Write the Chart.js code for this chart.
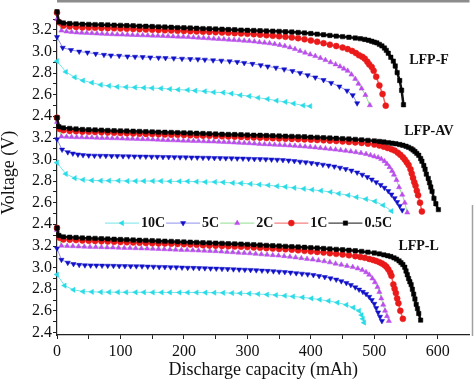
<!DOCTYPE html>
<html>
<head>
<meta charset="utf-8">
<script src="https://cdn.jsdelivr.net/npm/chart.js@4.4.1/dist/chart.umd.min.js"></script>
<style>
  html, body { margin: 0; padding: 0; background: #fff; }
  #wrap { width: 474px; height: 384px; }
</style>
</head>
<body>
<div id="wrap"><canvas id="dischargeChart" width="474" height="384"></canvas></div>
<script>
// 放電曲線データ (容量 mAh, 電圧 V) 図から読み取り
const rateLabels = ['10C', '5C', '2C', '1C', '0.5C'];
const panelNames = ['LFP-F', 'LFP-AV', 'LFP-L'];
const capTicks = [0, 50, 100, 150, 200, 250, 300, 350, 400, 450, 500, 550, 600];
const voltTicks = [2.4, 2.5, 2.6, 2.7, 2.8, 2.9, 3.0, 3.1, 3.2, 3.3];

// LFP-F
const fPts10C = [[0,2.91],[14,2.81],[28,2.76],[41,2.73],[55,2.71],[69,2.69],[82,2.681],[95,2.672],[109,2.669],[123,2.666],[137,2.663],[150,2.66],[164,2.657],[178,2.651],[191,2.645],[206,2.642],[218,2.636],[233,2.63],[247,2.621],[262,2.618],[275,2.609],[289,2.594],[303,2.585],[317,2.57],[332,2.558],[346,2.543],[360,2.531],[373,2.516],[388,2.498],[399,2.492]];
const fPts5C = [[0,3.134],[9,3.035],[22,3.014],[35,2.999],[48,2.99],[61,2.978],[74,2.969],[85,2.963],[98,2.96],[111,2.954],[123,2.951],[135,2.948],[147,2.945],[160,2.942],[171,2.939],[184,2.936],[197,2.933],[210,2.93],[222,2.927],[233,2.924],[246,2.918],[259,2.915],[272,2.909],[284,2.903],[295,2.894],[308,2.885],[321,2.873],[332,2.861],[345,2.849],[358,2.834],[371,2.819],[383,2.801],[395,2.78],[407,2.759],[420,2.735],[432,2.708],[445,2.675],[457,2.636],[466,2.594],[473,2.519]];
const fPts2C = [[0,3.30],[7,3.194],[15,3.186],[23,3.181],[31,3.177],[39,3.174],[47,3.172],[55,3.170],[63,3.167],[71,3.165],[79,3.162],[87,3.160],[95,3.158],[103,3.157],[111,3.155],[119,3.153],[127,3.152],[135,3.150],[143,3.149],[151,3.147],[159,3.146],[167,3.144],[175,3.142],[183,3.140],[191,3.138],[199,3.136],[207,3.134],[215,3.131],[223,3.128],[231,3.125],[239,3.122],[247,3.119],[255,3.116],[263,3.113],[271,3.110],[279,3.107],[287,3.104],[295,3.100],[303,3.097],[311,3.092],[319,3.087],[327,3.082],[335,3.076],[343,3.069],[351,3.060],[359,3.050],[367,3.038],[375,3.022],[383,3.005],[391,2.989],[399,2.972],[407,2.957],[415,2.940],[423,2.920],[431,2.900],[439,2.880],[446,2.860],[452,2.840],[458,2.820],[464,2.785],[470,2.745],[475,2.700],[480,2.655],[486,2.595],[493,2.50]];
const fPts1C = [[0,3.36],[4,3.27],[10,3.240],[20,3.233],[30,3.228],[40,3.224],[50,3.222],[60,3.220],[70,3.218],[80,3.217],[90,3.215],[100,3.213],[110,3.211],[120,3.209],[130,3.207],[140,3.204],[150,3.202],[160,3.200],[170,3.197],[180,3.195],[190,3.192],[200,3.190],[210,3.188],[220,3.186],[230,3.183],[240,3.181],[250,3.179],[260,3.176],[270,3.173],[280,3.170],[290,3.167],[300,3.164],[310,3.160],[320,3.156],[330,3.151],[340,3.146],[350,3.141],[360,3.136],[370,3.130],[380,3.124],[390,3.113],[400,3.102],[410,3.090],[420,3.077],[430,3.063],[440,3.050],[450,3.036],[458,3.022],[465,3.005],[471,2.985],[476,2.965],[481,2.950],[485,2.933],[489,2.905],[492,2.880],[496,2.855],[499,2.820],[503,2.766],[508,2.685],[513,2.604],[518,2.496]];
const fPts05C = [[0,3.37],[3,3.275],[10,3.265],[20,3.260],[30,3.257],[40,3.254],[50,3.252],[60,3.250],[70,3.249],[80,3.247],[90,3.245],[100,3.243],[110,3.241],[120,3.239],[130,3.236],[140,3.234],[150,3.232],[160,3.229],[170,3.227],[180,3.225],[190,3.222],[200,3.220],[210,3.218],[220,3.216],[230,3.213],[240,3.211],[250,3.209],[260,3.207],[270,3.204],[280,3.202],[290,3.199],[300,3.197],[310,3.195],[320,3.193],[330,3.191],[340,3.189],[350,3.187],[360,3.184],[370,3.181],[380,3.177],[390,3.172],[400,3.167],[410,3.161],[420,3.155],[430,3.149],[440,3.143],[450,3.138],[460,3.132],[470,3.125],[478,3.119],[485,3.112],[491,3.104],[496,3.095],[500,3.087],[504,3.080],[508,3.066],[512,3.052],[516,3.032],[519,3.010],[522,2.984],[526,2.946],[530,2.910],[533,2.865],[536,2.804],[540,2.730],[543,2.640],[546,2.505]];

// LFP-AV
const avPts10C = [[0,2.972],[14,2.867],[28,2.828],[41,2.813],[55,2.807],[69,2.804],[82,2.804],[97,2.804],[111,2.801],[124,2.801],[137,2.801],[151,2.801],[164,2.801],[178,2.798],[193,2.798],[206,2.798],[220,2.795],[234,2.792],[249,2.792],[262,2.789],[277,2.783],[290,2.780],[305,2.774],[319,2.768],[333,2.762],[347,2.753],[360,2.747],[374,2.738],[389,2.729],[402,2.720],[416,2.711],[431,2.699],[444,2.684],[459,2.669],[472,2.651],[487,2.633],[501,2.612],[514,2.576],[527,2.522]];
const avPts5C = [[0,3.189],[8,3.093],[17,3.069],[25,3.057],[33,3.048],[41,3.042],[50,3.039],[59,3.037],[68,3.036],[77,3.035],[86,3.034],[95,3.033],[104,3.032],[113,3.031],[122,3.030],[131,3.029],[140,3.028],[149,3.027],[158,3.026],[167,3.025],[176,3.024],[185,3.023],[194,3.022],[203,3.021],[212,3.020],[221,3.019],[230,3.018],[239,3.017],[248,3.015],[257,3.014],[266,3.013],[275,3.012],[284,3.011],[293,3.010],[302,3.008],[311,3.006],[320,3.005],[329,3.003],[338,3.001],[347,2.999],[356,2.996],[365,2.992],[374,2.987],[383,2.981],[392,2.975],[401,2.968],[410,2.961],[419,2.953],[428,2.945],[437,2.936],[446,2.925],[455,2.912],[464,2.898],[473,2.880],[481,2.860],[489,2.838],[496,2.815],[503,2.790],[510,2.765],[516,2.738],[522,2.708],[527,2.676],[532,2.642],[536,2.606],[540,2.570],[544,2.530]];
const avPts2C = [[0,3.35],[7,3.214],[15,3.212],[23,3.210],[31,3.208],[39,3.207],[47,3.206],[55,3.205],[63,3.203],[71,3.202],[79,3.201],[87,3.199],[95,3.198],[103,3.196],[111,3.195],[119,3.193],[127,3.192],[135,3.190],[143,3.189],[151,3.187],[159,3.185],[167,3.183],[175,3.181],[183,3.179],[191,3.178],[199,3.176],[207,3.175],[215,3.173],[223,3.172],[231,3.170],[239,3.169],[247,3.168],[255,3.166],[263,3.164],[271,3.162],[279,3.159],[287,3.157],[295,3.154],[303,3.152],[311,3.149],[319,3.146],[327,3.143],[335,3.141],[343,3.139],[351,3.137],[359,3.134],[367,3.131],[375,3.128],[383,3.125],[391,3.121],[399,3.117],[407,3.113],[415,3.108],[423,3.103],[431,3.098],[439,3.093],[447,3.088],[455,3.082],[463,3.076],[471,3.069],[479,3.061],[487,3.052],[494,3.041],[500,3.030],[506,3.020],[511,3.005],[516,2.985],[520,2.960],[524,2.930],[528,2.895],[531,2.860],[535,2.810],[539,2.743],[544,2.674],[548,2.599],[552,2.508]];
const avPts1C = [[0,3.39],[4,3.285],[10,3.272],[20,3.267],[30,3.263],[40,3.259],[50,3.258],[60,3.256],[70,3.254],[80,3.252],[90,3.250],[100,3.248],[110,3.246],[120,3.243],[130,3.241],[140,3.239],[150,3.237],[160,3.235],[170,3.233],[180,3.231],[190,3.230],[200,3.228],[210,3.226],[220,3.225],[230,3.223],[240,3.221],[250,3.220],[260,3.217],[270,3.215],[280,3.213],[290,3.210],[300,3.208],[310,3.206],[320,3.204],[330,3.201],[340,3.199],[350,3.196],[360,3.194],[370,3.192],[380,3.190],[390,3.188],[400,3.185],[410,3.182],[420,3.179],[430,3.176],[440,3.173],[450,3.169],[460,3.164],[470,3.160],[480,3.155],[490,3.148],[500,3.140],[508,3.131],[515,3.120],[521,3.108],[527,3.096],[532,3.084],[537,3.065],[541,3.045],[545,3.022],[548,3.000],[551,2.975],[554,2.950],[557,2.910],[559,2.870],[561,2.830],[563,2.790],[565,2.756],[567,2.710],[569,2.670],[572,2.600],[575,2.518]];
const avPts05C = [[0,3.39],[3,3.305],[10,3.295],[20,3.290],[30,3.285],[40,3.280],[50,3.278],[60,3.276],[70,3.274],[80,3.271],[90,3.269],[100,3.267],[110,3.266],[120,3.264],[130,3.262],[140,3.260],[150,3.258],[160,3.256],[170,3.254],[180,3.253],[190,3.251],[200,3.249],[210,3.247],[220,3.245],[230,3.243],[240,3.240],[250,3.238],[260,3.236],[270,3.234],[280,3.233],[290,3.231],[300,3.229],[310,3.227],[320,3.226],[330,3.224],[340,3.222],[350,3.220],[360,3.218],[370,3.216],[380,3.214],[390,3.212],[400,3.209],[410,3.207],[420,3.204],[430,3.201],[440,3.198],[450,3.195],[460,3.192],[470,3.188],[480,3.184],[490,3.179],[500,3.174],[508,3.169],[515,3.164],[522,3.158],[528,3.152],[534,3.147],[540,3.140],[545,3.133],[550,3.124],[554,3.114],[558,3.102],[561,3.090],[564,3.075],[567,3.058],[570,3.040],[573,3.010],[575,2.985],[578,2.945],[580,2.910],[582,2.865],[585,2.825],[587,2.785],[589,2.745],[591,2.705],[594,2.640],[597,2.590],[601,2.535]];

// LFP-L
const lPts10C = [[0,2.937],[12,2.834],[26,2.795],[41,2.779],[55,2.776],[69,2.774],[82,2.773],[96,2.773],[109,2.772],[124,2.772],[137,2.772],[151,2.771],[165,2.771],[178,2.771],[193,2.770],[206,2.770],[220,2.770],[234,2.769],[248,2.768],[262,2.767],[276,2.765],[289,2.763],[303,2.760],[317,2.756],[331,2.751],[345,2.746],[359,2.740],[372,2.733],[387,2.725],[401,2.715],[414,2.704],[428,2.692],[442,2.676],[456,2.655],[467,2.630],[476,2.600],[480,2.560],[482,2.525],[484,2.490]];
const lPts5C = [[0,3.180],[7,3.074],[17,3.047],[26,3.035],[35,3.027],[44,3.023],[53,3.022],[62,3.021],[71,3.020],[80,3.019],[89,3.018],[98,3.017],[107,3.016],[116,3.015],[125,3.014],[134,3.013],[143,3.011],[152,3.010],[161,3.008],[170,3.007],[179,3.005],[188,3.004],[197,3.002],[206,3.000],[215,2.999],[224,2.997],[233,2.996],[242,2.994],[251,2.992],[260,2.990],[269,2.988],[278,2.986],[287,2.984],[296,2.982],[305,2.980],[314,2.977],[323,2.974],[332,2.971],[341,2.968],[350,2.964],[359,2.960],[368,2.955],[377,2.950],[386,2.945],[395,2.939],[404,2.933],[413,2.924],[422,2.914],[431,2.902],[440,2.890],[448,2.875],[456,2.859],[463,2.840],[470,2.818],[476,2.797],[482,2.776],[487,2.757],[492,2.730],[496,2.700],[500,2.665],[503,2.625],[506,2.585],[509,2.545],[512,2.505]];
const lPts2C = [[0,3.35],[7,3.205],[16,3.202],[25,3.200],[34,3.198],[43,3.196],[52,3.194],[61,3.192],[70,3.191],[79,3.189],[88,3.188],[97,3.186],[106,3.184],[115,3.183],[124,3.181],[133,3.180],[142,3.178],[151,3.176],[160,3.174],[169,3.172],[178,3.170],[187,3.168],[196,3.166],[205,3.164],[214,3.162],[223,3.160],[232,3.158],[241,3.156],[250,3.154],[259,3.150],[268,3.147],[277,3.144],[286,3.140],[295,3.137],[304,3.134],[313,3.129],[322,3.125],[331,3.121],[340,3.117],[349,3.113],[358,3.108],[367,3.102],[376,3.096],[385,3.089],[394,3.082],[403,3.076],[412,3.068],[421,3.060],[430,3.050],[439,3.038],[448,3.028],[457,3.017],[466,3.006],[474,2.993],[481,2.978],[487,2.958],[492,2.935],[497,2.900],[501,2.865],[505,2.820],[508,2.775],[511,2.715],[514,2.656],[517,2.600],[520,2.550],[523,2.505]];
const lPts1C = [[0,3.37],[4,3.280],[10,3.263],[20,3.260],[30,3.257],[40,3.253],[50,3.251],[60,3.249],[70,3.246],[80,3.244],[90,3.241],[100,3.239],[110,3.237],[120,3.234],[130,3.232],[140,3.230],[150,3.228],[160,3.226],[170,3.225],[180,3.223],[190,3.221],[200,3.219],[210,3.216],[220,3.213],[230,3.210],[240,3.207],[250,3.205],[260,3.202],[270,3.200],[280,3.197],[290,3.195],[300,3.192],[310,3.189],[320,3.185],[330,3.182],[340,3.178],[350,3.175],[360,3.171],[370,3.167],[380,3.162],[390,3.157],[400,3.152],[410,3.147],[420,3.141],[430,3.135],[440,3.129],[450,3.123],[460,3.116],[470,3.108],[478,3.100],[485,3.092],[492,3.082],[498,3.072],[503,3.063],[508,3.052],[512,3.040],[516,3.025],[519,3.010],[522,2.985],[525,2.955],[527,2.925],[530,2.845],[532,2.805],[534,2.765],[536,2.715],[538,2.670],[541,2.600],[545,2.525]];
const lPts05C = [[0,3.37],[3,3.300],[10,3.287],[20,3.284],[30,3.281],[40,3.277],[50,3.275],[60,3.273],[70,3.270],[80,3.268],[90,3.265],[100,3.263],[110,3.261],[120,3.258],[130,3.256],[140,3.254],[150,3.252],[160,3.249],[170,3.247],[180,3.245],[190,3.242],[200,3.240],[210,3.238],[220,3.236],[230,3.233],[240,3.231],[250,3.229],[260,3.227],[270,3.224],[280,3.222],[290,3.220],[300,3.217],[310,3.214],[320,3.211],[330,3.208],[340,3.205],[350,3.202],[360,3.199],[370,3.196],[380,3.193],[390,3.190],[400,3.187],[410,3.183],[420,3.179],[430,3.175],[440,3.171],[450,3.167],[460,3.163],[470,3.158],[480,3.152],[490,3.145],[500,3.137],[508,3.129],[515,3.120],[521,3.112],[526,3.104],[531,3.092],[535,3.080],[539,3.064],[542,3.048],[545,3.030],[548,3.005],[550,2.970],[552,2.935],[554,2.900],[556,2.870],[558,2.843],[560,2.800],[562,2.755],[564,2.710],[566,2.660],[568,2.620],[570,2.575],[573,2.513]];

// パネルごとのデータ (上から順)
const panelSeries = [
    [fPts10C, fPts5C, fPts2C, fPts1C, fPts05C],
    [avPts10C, avPts5C, avPts2C, avPts1C, avPts05C],
    [lPts10C, lPts5C, lPts2C, lPts1C, lPts05C]
];
const panelAxes = ['yF', 'yAV', 'yL'];

// 系列ごとの見た目 (線色, マーカー)
const rateStyle = [
    { line: '#72e4ea', point: '#28dbe6', shape: 'triangle', rot: -90, r: 3.0, lw: 1 },
    { line: '#9090f0', point: '#1010c8', shape: 'triangle', rot: 180, r: 3.0, lw: 1 },
    { line: '#90de90', point: '#bd4cee', shape: 'triangle', rot: 0, r: 3.0, lw: 1 },
    { line: '#f26060', point: '#ea1a1a', shape: 'circle', rot: 0, r: 3.0, lw: 1.5 },
    { line: '#111111', point: '#000000', shape: 'rect', rot: 0, r: 3.1, lw: 2.5 }
];

Chart.defaults.font.family = "'Liberation Serif', 'Times New Roman', serif";
Chart.defaults.color = '#111';

// データセット作成 (0.5Cを一番上に描くため逆順)
const datasets = [];
panelSeries.forEach((series, p) => {
    for (let r = series.length - 1; r >= 0; r--) {
        const st = rateStyle[r];
        datasets.push({
            label: panelNames[p] + ' ' + rateLabels[r],
            data: series[r].map(pt => ({ x: pt[0], y: pt[1] })),
            yAxisID: panelAxes[p],
            xAxisID: 'x',
            showLine: true,
            borderColor: st.line,
            borderWidth: st.lw,
            tension: 0,
            pointStyle: st.shape,
            rotation: st.rot,
            pointRadius: st.r,
            pointBackgroundColor: st.point,
            pointBorderColor: st.point,
            pointBorderWidth: 0.5,
            clip: 6
        });
    }
});

// 電圧軸(3段に積み重ね)
function voltAxis(showTitle) {
    return {
        type: 'linear',
        position: 'left',
        stack: 'volt',
        stackWeight: 1,
        bounds: 'data',
        min: 2.375,
        max: 3.38,
        border: { color: '#222', width: 1.2 },
        grid: { drawOnChartArea: false, tickLength: 4, color: '#222' },
        afterBuildTicks: scale => { scale.ticks = voltTicks.map(v => ({ value: v })); },
        afterFit: scale => { scale.width = 57; },
        ticks: {
            autoSkip: false,
            padding: 1,
            font: { size: 16 },
            callback: v => (Math.round(v * 10) % 2 === 0 ? v.toFixed(1) : '')
        },
        title: {
            display: showTitle,
            text: 'Voltage (V)',
            font: { size: 18, lineHeight: 1 },
            padding: 0
        }
    };
}

// 枠線・パネル名・凡例
const decorPlugin = {
    id: 'decor',
    afterDraw(chart) {
        const ctx = chart.ctx;
        const area = chart.chartArea;
        const xs = chart.scales.x;
        ctx.save();
        // 上と右の灰色の枠
        ctx.fillStyle = '#8c8c8c';
        ctx.fillRect(area.left, 0, area.right - area.left, 2.5);
        ctx.strokeStyle = '#a0a0a0';
        ctx.lineWidth = 1.5;
        ctx.beginPath();
        ctx.moveTo(472.5, 205);
        ctx.lineTo(472.5, area.bottom + 1);
        ctx.stroke();

        // パネル名
        const labelPos = [[555, 2.92], [547, 3.26], [538, 3.195]];
        ctx.font = "bold 14px 'Liberation Serif'";
        ctx.fillStyle = '#111';
        ctx.textBaseline = 'middle';
        ctx.textAlign = 'left';
        panelNames.forEach((name, i) => {
            const ys = chart.scales[panelAxes[i]];
            ctx.fillText(name, xs.getPixelForValue(labelPos[i][0]), ys.getPixelForValue(labelPos[i][1]));
        });

        // 凡例 (中段の下側)
        const ly = chart.scales.yAV.getPixelForValue(2.41);
        let mx = area.left + 65;
        rateLabels.forEach((lab, r) => {
            const st = rateStyle[r];
            ctx.strokeStyle = r === 4 ? '#111' : st.line;
            ctx.lineWidth = 1;
            ctx.beginPath();
            ctx.moveTo(mx - 17, ly);
            ctx.lineTo(mx + 17, ly);
            ctx.stroke();
            ctx.fillStyle = st.point;
            ctx.strokeStyle = st.point;
            ctx.lineWidth = 0.5;
            Chart.helpers.drawPoint(ctx, { pointStyle: st.shape, rotation: st.rot, radius: st.r, borderWidth: 0.5 }, mx, ly);
            ctx.fillStyle = '#111';
            const tx = mx + 19;
            ctx.fillText(lab, tx, ly);
            mx = tx + ctx.measureText(lab).width + 18;
        });
        ctx.restore();
    }
};

new Chart(document.getElementById('dischargeChart').getContext('2d'), {
    type: 'scatter',
    data: { datasets },
    options: {
        responsive: false,
        animation: false,
        devicePixelRatio: 1,
        layout: { padding: { top: 2, right: 0, bottom: 0, left: 0 } },
        plugins: { legend: { display: false }, tooltip: { enabled: false } },
        scales: {
            x: {
                type: 'linear',
                position: 'bottom',
                bounds: 'data',
                min: 0,
                max: 650,
                border: { color: '#222', width: 1.2 },
                grid: { drawOnChartArea: false, tickLength: 4, color: '#222' },
                afterBuildTicks: scale => { scale.ticks = capTicks.map(v => ({ value: v })); },
                afterFit: scale => { scale.height = 49; },
                ticks: {
                    autoSkip: false,
                    maxRotation: 0,
                    padding: 3,
                    font: { size: 16 },
                    callback: v => (v % 100 === 0 ? String(v) : '')
                },
                title: {
                    display: true,
                    text: 'Discharge capacity (mAh)',
                    font: { size: 18 },
                    padding: { top: 0, bottom: 3 }
                }
            },
            yL: voltAxis(false),
            yAV: voltAxis(true),
            yF: voltAxis(false)
        }
    },
    plugins: [decorPlugin]
});
</script>
</body>
</html>
